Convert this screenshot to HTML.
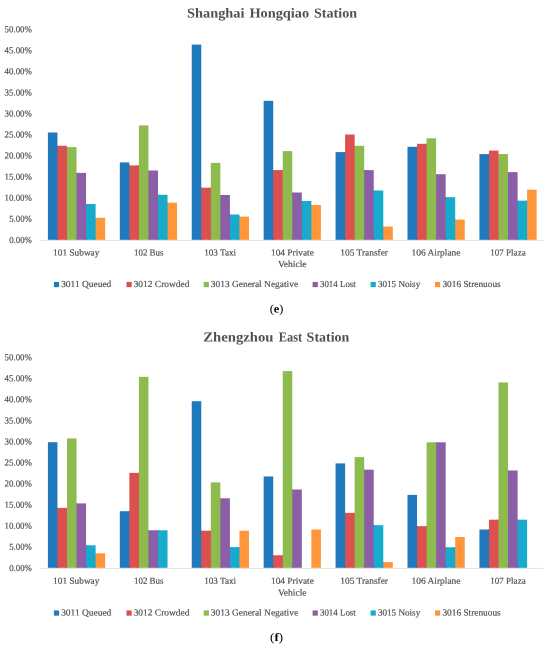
<!DOCTYPE html>
<html><head><meta charset="utf-8"><title>Station charts</title>
<style>
html,body{margin:0;padding:0;background:#fff;}
svg{display:block;font-family:"Liberation Serif",serif;}
text.s{stroke:#505050;stroke-width:0.18px;}
</style></head><body>
<svg width="550" height="648" viewBox="0 0 550 648">
<rect width="550" height="648" fill="#fff"/>
<text transform="matrix(1,0.001,0,1,0,0)" font-size="13.7" font-weight="bold" fill="#505050"><tspan x="187.00" y="17.38" textLength="57.50" lengthAdjust="spacingAndGlyphs">Shanghai</tspan> <tspan x="249.40" y="17.32" textLength="59.80" lengthAdjust="spacingAndGlyphs">Hongqiao</tspan> <tspan x="314.00" y="17.26" textLength="43.00" lengthAdjust="spacingAndGlyphs">Station</tspan></text>
<text class="s" transform="matrix(1,0.001,0,1,0,0)" x="9.20" y="242.88" font-size="9.2" fill="#505050" textLength="22.70" lengthAdjust="spacingAndGlyphs">0.00%</text>
<text class="s" transform="matrix(1,0.001,0,1,0,0)" x="9.20" y="221.81" font-size="9.2" fill="#505050" textLength="22.70" lengthAdjust="spacingAndGlyphs">5.00%</text>
<text class="s" transform="matrix(1,0.001,0,1,0,0)" x="4.60" y="200.74" font-size="9.2" fill="#505050" textLength="27.30" lengthAdjust="spacingAndGlyphs">10.00%</text>
<text class="s" transform="matrix(1,0.001,0,1,0,0)" x="4.60" y="179.67" font-size="9.2" fill="#505050" textLength="27.30" lengthAdjust="spacingAndGlyphs">15.00%</text>
<text class="s" transform="matrix(1,0.001,0,1,0,0)" x="4.60" y="158.60" font-size="9.2" fill="#505050" textLength="27.30" lengthAdjust="spacingAndGlyphs">20.00%</text>
<text class="s" transform="matrix(1,0.001,0,1,0,0)" x="4.60" y="137.53" font-size="9.2" fill="#505050" textLength="27.30" lengthAdjust="spacingAndGlyphs">25.00%</text>
<text class="s" transform="matrix(1,0.001,0,1,0,0)" x="4.60" y="116.46" font-size="9.2" fill="#505050" textLength="27.30" lengthAdjust="spacingAndGlyphs">30.00%</text>
<text class="s" transform="matrix(1,0.001,0,1,0,0)" x="4.60" y="95.39" font-size="9.2" fill="#505050" textLength="27.30" lengthAdjust="spacingAndGlyphs">35.00%</text>
<text class="s" transform="matrix(1,0.001,0,1,0,0)" x="4.60" y="74.32" font-size="9.2" fill="#505050" textLength="27.30" lengthAdjust="spacingAndGlyphs">40.00%</text>
<text class="s" transform="matrix(1,0.001,0,1,0,0)" x="4.60" y="53.25" font-size="9.2" fill="#505050" textLength="27.30" lengthAdjust="spacingAndGlyphs">45.00%</text>
<text class="s" transform="matrix(1,0.001,0,1,0,0)" x="4.60" y="32.18" font-size="9.2" fill="#505050" textLength="27.30" lengthAdjust="spacingAndGlyphs">50.00%</text>
<rect x="40.3" y="239.90" width="503.6" height="0.8" fill="#D9D9D9"/>
<rect x="47.90" y="132.50" width="9.54" height="107.30" fill="#2079BD"/>
<rect x="55.94" y="145.80" width="2.5" height="94.00" fill="#2079BD"/>
<rect x="57.44" y="145.80" width="9.54" height="94.00" fill="#DC5050"/>
<rect x="65.48" y="147.10" width="2.5" height="92.70" fill="#DC5050"/>
<rect x="66.98" y="147.10" width="9.54" height="92.70" fill="#8DBB4E"/>
<rect x="75.02" y="172.90" width="2.5" height="66.90" fill="#8DBB4E"/>
<rect x="76.52" y="172.90" width="9.54" height="66.90" fill="#8B5EA8"/>
<rect x="84.56" y="204.00" width="2.5" height="35.80" fill="#8B5EA8"/>
<rect x="86.06" y="204.00" width="9.54" height="35.80" fill="#17AACC"/>
<rect x="94.10" y="217.80" width="2.5" height="22.00" fill="#17AACC"/>
<rect x="95.60" y="217.80" width="9.54" height="22.00" fill="#FF9639"/>
<rect x="119.82" y="162.40" width="9.54" height="77.40" fill="#2079BD"/>
<rect x="127.86" y="165.40" width="2.5" height="74.40" fill="#2079BD"/>
<rect x="129.36" y="165.40" width="9.54" height="74.40" fill="#DC5050"/>
<rect x="137.40" y="165.40" width="2.5" height="74.40" fill="#DC5050"/>
<rect x="138.90" y="125.40" width="9.54" height="114.40" fill="#8DBB4E"/>
<rect x="146.94" y="170.50" width="2.5" height="69.30" fill="#8DBB4E"/>
<rect x="148.44" y="170.50" width="9.54" height="69.30" fill="#8B5EA8"/>
<rect x="156.48" y="194.80" width="2.5" height="45.00" fill="#8B5EA8"/>
<rect x="157.98" y="194.80" width="9.54" height="45.00" fill="#17AACC"/>
<rect x="166.02" y="202.70" width="2.5" height="37.10" fill="#17AACC"/>
<rect x="167.52" y="202.70" width="9.54" height="37.10" fill="#FF9639"/>
<rect x="191.74" y="44.60" width="9.54" height="195.20" fill="#2079BD"/>
<rect x="199.78" y="187.70" width="2.5" height="52.10" fill="#2079BD"/>
<rect x="201.28" y="187.70" width="9.54" height="52.10" fill="#DC5050"/>
<rect x="209.32" y="187.70" width="2.5" height="52.10" fill="#DC5050"/>
<rect x="210.82" y="162.90" width="9.54" height="76.90" fill="#8DBB4E"/>
<rect x="218.86" y="195.00" width="2.5" height="44.80" fill="#8DBB4E"/>
<rect x="220.36" y="195.00" width="9.54" height="44.80" fill="#8B5EA8"/>
<rect x="228.40" y="214.50" width="2.5" height="25.30" fill="#8B5EA8"/>
<rect x="229.90" y="214.50" width="9.54" height="25.30" fill="#17AACC"/>
<rect x="237.94" y="216.60" width="2.5" height="23.20" fill="#17AACC"/>
<rect x="239.44" y="216.60" width="9.54" height="23.20" fill="#FF9639"/>
<rect x="263.66" y="100.80" width="9.54" height="139.00" fill="#2079BD"/>
<rect x="271.70" y="170.10" width="2.5" height="69.70" fill="#2079BD"/>
<rect x="273.20" y="170.10" width="9.54" height="69.70" fill="#DC5050"/>
<rect x="281.24" y="170.10" width="2.5" height="69.70" fill="#DC5050"/>
<rect x="282.74" y="151.10" width="9.54" height="88.70" fill="#8DBB4E"/>
<rect x="290.78" y="192.50" width="2.5" height="47.30" fill="#8DBB4E"/>
<rect x="292.28" y="192.50" width="9.54" height="47.30" fill="#8B5EA8"/>
<rect x="300.32" y="201.00" width="2.5" height="38.80" fill="#8B5EA8"/>
<rect x="301.82" y="201.00" width="9.54" height="38.80" fill="#17AACC"/>
<rect x="309.86" y="205.00" width="2.5" height="34.80" fill="#17AACC"/>
<rect x="311.36" y="205.00" width="9.54" height="34.80" fill="#FF9639"/>
<rect x="335.58" y="152.10" width="9.54" height="87.70" fill="#2079BD"/>
<rect x="343.62" y="152.10" width="2.5" height="87.70" fill="#2079BD"/>
<rect x="345.12" y="134.50" width="9.54" height="105.30" fill="#DC5050"/>
<rect x="353.16" y="145.80" width="2.5" height="94.00" fill="#DC5050"/>
<rect x="354.66" y="145.80" width="9.54" height="94.00" fill="#8DBB4E"/>
<rect x="362.70" y="170.10" width="2.5" height="69.70" fill="#8DBB4E"/>
<rect x="364.20" y="170.10" width="9.54" height="69.70" fill="#8B5EA8"/>
<rect x="372.24" y="190.50" width="2.5" height="49.30" fill="#8B5EA8"/>
<rect x="373.74" y="190.50" width="9.54" height="49.30" fill="#17AACC"/>
<rect x="381.78" y="226.60" width="2.5" height="13.20" fill="#17AACC"/>
<rect x="383.28" y="226.60" width="9.54" height="13.20" fill="#FF9639"/>
<rect x="407.50" y="146.80" width="9.54" height="93.00" fill="#2079BD"/>
<rect x="415.54" y="146.80" width="2.5" height="93.00" fill="#2079BD"/>
<rect x="417.04" y="143.80" width="9.54" height="96.00" fill="#DC5050"/>
<rect x="425.08" y="143.80" width="2.5" height="96.00" fill="#DC5050"/>
<rect x="426.58" y="138.30" width="9.54" height="101.50" fill="#8DBB4E"/>
<rect x="434.62" y="174.20" width="2.5" height="65.60" fill="#8DBB4E"/>
<rect x="436.12" y="174.20" width="9.54" height="65.60" fill="#8B5EA8"/>
<rect x="444.16" y="197.20" width="2.5" height="42.60" fill="#8B5EA8"/>
<rect x="445.66" y="197.20" width="9.54" height="42.60" fill="#17AACC"/>
<rect x="453.70" y="219.60" width="2.5" height="20.20" fill="#17AACC"/>
<rect x="455.20" y="219.60" width="9.54" height="20.20" fill="#FF9639"/>
<rect x="479.42" y="154.10" width="9.54" height="85.70" fill="#2079BD"/>
<rect x="487.46" y="154.10" width="2.5" height="85.70" fill="#2079BD"/>
<rect x="488.96" y="150.60" width="9.54" height="89.20" fill="#DC5050"/>
<rect x="497.00" y="154.10" width="2.5" height="85.70" fill="#DC5050"/>
<rect x="498.50" y="154.10" width="9.54" height="85.70" fill="#8DBB4E"/>
<rect x="506.54" y="172.10" width="2.5" height="67.70" fill="#8DBB4E"/>
<rect x="508.04" y="172.10" width="9.54" height="67.70" fill="#8B5EA8"/>
<rect x="516.08" y="200.70" width="2.5" height="39.10" fill="#8B5EA8"/>
<rect x="517.58" y="200.70" width="9.54" height="39.10" fill="#17AACC"/>
<rect x="525.62" y="200.70" width="2.5" height="39.10" fill="#17AACC"/>
<rect x="527.12" y="189.70" width="9.54" height="50.10" fill="#FF9639"/>
<text class="s" transform="matrix(1,0.001,0,1,0,0)" x="53.10" y="255.47" font-size="9.2" fill="#505050" textLength="46.30" lengthAdjust="spacingAndGlyphs">101 Subway</text>
<text class="s" transform="matrix(1,0.001,0,1,0,0)" x="134.00" y="255.40" font-size="9.2" fill="#505050" textLength="29.50" lengthAdjust="spacingAndGlyphs">102 Bus</text>
<text class="s" transform="matrix(1,0.001,0,1,0,0)" x="204.20" y="255.33" font-size="9.2" fill="#505050" textLength="31.90" lengthAdjust="spacingAndGlyphs">103 Taxi</text>
<text class="s" transform="matrix(1,0.001,0,1,0,0)" x="271.00" y="255.26" font-size="9.2" fill="#505050" textLength="42.80" lengthAdjust="spacingAndGlyphs">104 Private</text>
<text class="s" transform="matrix(1,0.001,0,1,0,0)" x="340.30" y="255.19" font-size="9.2" fill="#505050" textLength="47.70" lengthAdjust="spacingAndGlyphs">105 Transfer</text>
<text class="s" transform="matrix(1,0.001,0,1,0,0)" x="411.50" y="255.11" font-size="9.2" fill="#505050" textLength="49.00" lengthAdjust="spacingAndGlyphs">106 Airplane</text>
<text class="s" transform="matrix(1,0.001,0,1,0,0)" x="490.20" y="255.04" font-size="9.2" fill="#505050" textLength="35.50" lengthAdjust="spacingAndGlyphs">107 Plaza</text>
<text class="s" transform="matrix(1,0.001,0,1,0,0)" x="278.00" y="266.71" font-size="9.2" fill="#505050" textLength="28.50" lengthAdjust="spacingAndGlyphs">Vehicle</text>
<rect x="53.90" y="281.95" width="5.2" height="5.2" fill="#2079BD"/>
<text class="s" transform="matrix(1,0.001,0,1,0,0)" x="61.15" y="286.91" font-size="9.2" fill="#505050" textLength="50.15" lengthAdjust="spacingAndGlyphs">3011 Queued</text>
<rect x="126.50" y="281.95" width="5.2" height="5.2" fill="#DC5050"/>
<text class="s" transform="matrix(1,0.001,0,1,0,0)" x="133.65" y="286.84" font-size="9.2" fill="#505050" textLength="55.75" lengthAdjust="spacingAndGlyphs">3012 Crowded</text>
<rect x="203.70" y="281.95" width="5.2" height="5.2" fill="#8DBB4E"/>
<text class="s" transform="matrix(1,0.001,0,1,0,0)" x="210.75" y="286.75" font-size="9.2" fill="#505050" textLength="87.35" lengthAdjust="spacingAndGlyphs">3013 General Negative</text>
<rect x="312.60" y="281.95" width="5.2" height="5.2" fill="#8B5EA8"/>
<text class="s" transform="matrix(1,0.001,0,1,0,0)" x="319.95" y="286.66" font-size="9.2" fill="#505050" textLength="35.85" lengthAdjust="spacingAndGlyphs">3014 Lost</text>
<rect x="370.60" y="281.95" width="5.2" height="5.2" fill="#17AACC"/>
<text class="s" transform="matrix(1,0.001,0,1,0,0)" x="377.95" y="286.60" font-size="9.2" fill="#505050" textLength="42.25" lengthAdjust="spacingAndGlyphs">3015 Noisy</text>
<rect x="435.00" y="281.95" width="5.2" height="5.2" fill="#FF9639"/>
<text class="s" transform="matrix(1,0.001,0,1,0,0)" x="442.45" y="286.53" font-size="9.2" fill="#505050" textLength="58.25" lengthAdjust="spacingAndGlyphs">3016 Strenuous</text>
<text transform="matrix(1,0.001,0,1,0,0)" x="276.6" y="312.12" font-size="11.5" fill="#000" text-anchor="middle" textLength="13.9" lengthAdjust="spacingAndGlyphs">(<tspan font-weight="bold">e</tspan>)</text>
<text transform="matrix(1,0.001,0,1,0,0)" font-size="13.7" font-weight="bold" fill="#505050"><tspan x="203.30" y="341.36" textLength="70.10" lengthAdjust="spacingAndGlyphs">Zhengzhou</tspan> <tspan x="278.80" y="341.31" textLength="23.30" lengthAdjust="spacingAndGlyphs">East</tspan> <tspan x="306.60" y="341.27" textLength="42.80" lengthAdjust="spacingAndGlyphs">Station</tspan></text>
<text class="s" transform="matrix(1,0.001,0,1,0,0)" x="9.20" y="570.88" font-size="9.2" fill="#505050" textLength="22.70" lengthAdjust="spacingAndGlyphs">0.00%</text>
<text class="s" transform="matrix(1,0.001,0,1,0,0)" x="9.20" y="549.81" font-size="9.2" fill="#505050" textLength="22.70" lengthAdjust="spacingAndGlyphs">5.00%</text>
<text class="s" transform="matrix(1,0.001,0,1,0,0)" x="4.60" y="528.74" font-size="9.2" fill="#505050" textLength="27.30" lengthAdjust="spacingAndGlyphs">10.00%</text>
<text class="s" transform="matrix(1,0.001,0,1,0,0)" x="4.60" y="507.67" font-size="9.2" fill="#505050" textLength="27.30" lengthAdjust="spacingAndGlyphs">15.00%</text>
<text class="s" transform="matrix(1,0.001,0,1,0,0)" x="4.60" y="486.60" font-size="9.2" fill="#505050" textLength="27.30" lengthAdjust="spacingAndGlyphs">20.00%</text>
<text class="s" transform="matrix(1,0.001,0,1,0,0)" x="4.60" y="465.53" font-size="9.2" fill="#505050" textLength="27.30" lengthAdjust="spacingAndGlyphs">25.00%</text>
<text class="s" transform="matrix(1,0.001,0,1,0,0)" x="4.60" y="444.46" font-size="9.2" fill="#505050" textLength="27.30" lengthAdjust="spacingAndGlyphs">30.00%</text>
<text class="s" transform="matrix(1,0.001,0,1,0,0)" x="4.60" y="423.39" font-size="9.2" fill="#505050" textLength="27.30" lengthAdjust="spacingAndGlyphs">35.00%</text>
<text class="s" transform="matrix(1,0.001,0,1,0,0)" x="4.60" y="402.32" font-size="9.2" fill="#505050" textLength="27.30" lengthAdjust="spacingAndGlyphs">40.00%</text>
<text class="s" transform="matrix(1,0.001,0,1,0,0)" x="4.60" y="381.25" font-size="9.2" fill="#505050" textLength="27.30" lengthAdjust="spacingAndGlyphs">45.00%</text>
<text class="s" transform="matrix(1,0.001,0,1,0,0)" x="4.60" y="360.18" font-size="9.2" fill="#505050" textLength="27.30" lengthAdjust="spacingAndGlyphs">50.00%</text>
<rect x="40.3" y="567.90" width="503.6" height="0.8" fill="#D9D9D9"/>
<rect x="47.90" y="442.20" width="9.54" height="125.60" fill="#2079BD"/>
<rect x="55.94" y="507.90" width="2.5" height="59.90" fill="#2079BD"/>
<rect x="57.44" y="507.90" width="9.54" height="59.90" fill="#DC5050"/>
<rect x="65.48" y="507.90" width="2.5" height="59.90" fill="#DC5050"/>
<rect x="66.98" y="438.40" width="9.54" height="129.40" fill="#8DBB4E"/>
<rect x="75.02" y="503.40" width="2.5" height="64.40" fill="#8DBB4E"/>
<rect x="76.52" y="503.40" width="9.54" height="64.40" fill="#8B5EA8"/>
<rect x="84.56" y="545.30" width="2.5" height="22.50" fill="#8B5EA8"/>
<rect x="86.06" y="545.30" width="9.54" height="22.50" fill="#17AACC"/>
<rect x="94.10" y="553.30" width="2.5" height="14.50" fill="#17AACC"/>
<rect x="95.60" y="553.30" width="9.54" height="14.50" fill="#FF9639"/>
<rect x="119.82" y="511.20" width="9.54" height="56.60" fill="#2079BD"/>
<rect x="127.86" y="511.20" width="2.5" height="56.60" fill="#2079BD"/>
<rect x="129.36" y="472.90" width="9.54" height="94.90" fill="#DC5050"/>
<rect x="137.40" y="472.90" width="2.5" height="94.90" fill="#DC5050"/>
<rect x="138.90" y="376.85" width="9.54" height="190.95" fill="#8DBB4E"/>
<rect x="146.94" y="530.30" width="2.5" height="37.50" fill="#8DBB4E"/>
<rect x="148.44" y="530.30" width="9.54" height="37.50" fill="#8B5EA8"/>
<rect x="156.48" y="530.30" width="2.5" height="37.50" fill="#8B5EA8"/>
<rect x="157.98" y="530.30" width="9.54" height="37.50" fill="#17AACC"/>
<rect x="191.74" y="401.20" width="9.54" height="166.60" fill="#2079BD"/>
<rect x="199.78" y="530.75" width="2.5" height="37.05" fill="#2079BD"/>
<rect x="201.28" y="530.75" width="9.54" height="37.05" fill="#DC5050"/>
<rect x="209.32" y="530.75" width="2.5" height="37.05" fill="#DC5050"/>
<rect x="210.82" y="482.40" width="9.54" height="85.40" fill="#8DBB4E"/>
<rect x="218.86" y="498.30" width="2.5" height="69.50" fill="#8DBB4E"/>
<rect x="220.36" y="498.30" width="9.54" height="69.50" fill="#8B5EA8"/>
<rect x="228.40" y="547.10" width="2.5" height="20.70" fill="#8B5EA8"/>
<rect x="229.90" y="547.10" width="9.54" height="20.70" fill="#17AACC"/>
<rect x="237.94" y="547.10" width="2.5" height="20.70" fill="#17AACC"/>
<rect x="239.44" y="530.75" width="9.54" height="37.05" fill="#FF9639"/>
<rect x="263.66" y="476.45" width="9.54" height="91.35" fill="#2079BD"/>
<rect x="271.70" y="555.30" width="2.5" height="12.50" fill="#2079BD"/>
<rect x="273.20" y="555.30" width="9.54" height="12.50" fill="#DC5050"/>
<rect x="281.24" y="555.30" width="2.5" height="12.50" fill="#DC5050"/>
<rect x="282.74" y="371.10" width="9.54" height="196.70" fill="#8DBB4E"/>
<rect x="290.78" y="489.50" width="2.5" height="78.30" fill="#8DBB4E"/>
<rect x="292.28" y="489.50" width="9.54" height="78.30" fill="#8B5EA8"/>
<rect x="311.36" y="529.50" width="9.54" height="38.30" fill="#FF9639"/>
<rect x="335.58" y="463.40" width="9.54" height="104.40" fill="#2079BD"/>
<rect x="343.62" y="512.90" width="2.5" height="54.90" fill="#2079BD"/>
<rect x="345.12" y="512.90" width="9.54" height="54.90" fill="#DC5050"/>
<rect x="353.16" y="512.90" width="2.5" height="54.90" fill="#DC5050"/>
<rect x="354.66" y="457.10" width="9.54" height="110.70" fill="#8DBB4E"/>
<rect x="362.70" y="469.70" width="2.5" height="98.10" fill="#8DBB4E"/>
<rect x="364.20" y="469.70" width="9.54" height="98.10" fill="#8B5EA8"/>
<rect x="372.24" y="525.20" width="2.5" height="42.60" fill="#8B5EA8"/>
<rect x="373.74" y="525.20" width="9.54" height="42.60" fill="#17AACC"/>
<rect x="381.78" y="562.10" width="2.5" height="5.70" fill="#17AACC"/>
<rect x="383.28" y="562.10" width="9.54" height="5.70" fill="#FF9639"/>
<rect x="407.50" y="494.90" width="9.54" height="72.90" fill="#2079BD"/>
<rect x="415.54" y="526.20" width="2.5" height="41.60" fill="#2079BD"/>
<rect x="417.04" y="526.20" width="9.54" height="41.60" fill="#DC5050"/>
<rect x="425.08" y="526.20" width="2.5" height="41.60" fill="#DC5050"/>
<rect x="426.58" y="442.30" width="9.54" height="125.50" fill="#8DBB4E"/>
<rect x="434.62" y="442.30" width="2.5" height="125.50" fill="#8DBB4E"/>
<rect x="436.12" y="442.30" width="9.54" height="125.50" fill="#8B5EA8"/>
<rect x="444.16" y="547.30" width="2.5" height="20.50" fill="#8B5EA8"/>
<rect x="445.66" y="547.30" width="9.54" height="20.50" fill="#17AACC"/>
<rect x="453.70" y="547.30" width="2.5" height="20.50" fill="#17AACC"/>
<rect x="455.20" y="537.00" width="9.54" height="30.80" fill="#FF9639"/>
<rect x="479.42" y="529.50" width="9.54" height="38.30" fill="#2079BD"/>
<rect x="487.46" y="529.50" width="2.5" height="38.30" fill="#2079BD"/>
<rect x="488.96" y="519.70" width="9.54" height="48.10" fill="#DC5050"/>
<rect x="497.00" y="519.70" width="2.5" height="48.10" fill="#DC5050"/>
<rect x="498.50" y="382.40" width="9.54" height="185.40" fill="#8DBB4E"/>
<rect x="506.54" y="470.50" width="2.5" height="97.30" fill="#8DBB4E"/>
<rect x="508.04" y="470.50" width="9.54" height="97.30" fill="#8B5EA8"/>
<rect x="516.08" y="519.70" width="2.5" height="48.10" fill="#8B5EA8"/>
<rect x="517.58" y="519.70" width="9.54" height="48.10" fill="#17AACC"/>
<text class="s" transform="matrix(1,0.001,0,1,0,0)" x="53.10" y="583.72" font-size="9.2" fill="#505050" textLength="46.30" lengthAdjust="spacingAndGlyphs">101 Subway</text>
<text class="s" transform="matrix(1,0.001,0,1,0,0)" x="134.00" y="583.65" font-size="9.2" fill="#505050" textLength="29.50" lengthAdjust="spacingAndGlyphs">102 Bus</text>
<text class="s" transform="matrix(1,0.001,0,1,0,0)" x="204.20" y="583.58" font-size="9.2" fill="#505050" textLength="31.90" lengthAdjust="spacingAndGlyphs">103 Taxi</text>
<text class="s" transform="matrix(1,0.001,0,1,0,0)" x="271.00" y="583.51" font-size="9.2" fill="#505050" textLength="42.80" lengthAdjust="spacingAndGlyphs">104 Private</text>
<text class="s" transform="matrix(1,0.001,0,1,0,0)" x="340.30" y="583.44" font-size="9.2" fill="#505050" textLength="47.70" lengthAdjust="spacingAndGlyphs">105 Transfer</text>
<text class="s" transform="matrix(1,0.001,0,1,0,0)" x="411.50" y="583.36" font-size="9.2" fill="#505050" textLength="49.00" lengthAdjust="spacingAndGlyphs">106 Airplane</text>
<text class="s" transform="matrix(1,0.001,0,1,0,0)" x="490.20" y="583.29" font-size="9.2" fill="#505050" textLength="35.50" lengthAdjust="spacingAndGlyphs">107 Plaza</text>
<text class="s" transform="matrix(1,0.001,0,1,0,0)" x="278.00" y="595.21" font-size="9.2" fill="#505050" textLength="28.50" lengthAdjust="spacingAndGlyphs">Vehicle</text>
<rect x="53.90" y="610.45" width="5.2" height="5.2" fill="#2079BD"/>
<text class="s" transform="matrix(1,0.001,0,1,0,0)" x="61.15" y="615.41" font-size="9.2" fill="#505050" textLength="50.15" lengthAdjust="spacingAndGlyphs">3011 Queued</text>
<rect x="126.50" y="610.45" width="5.2" height="5.2" fill="#DC5050"/>
<text class="s" transform="matrix(1,0.001,0,1,0,0)" x="133.65" y="615.34" font-size="9.2" fill="#505050" textLength="55.75" lengthAdjust="spacingAndGlyphs">3012 Crowded</text>
<rect x="203.70" y="610.45" width="5.2" height="5.2" fill="#8DBB4E"/>
<text class="s" transform="matrix(1,0.001,0,1,0,0)" x="210.75" y="615.25" font-size="9.2" fill="#505050" textLength="87.35" lengthAdjust="spacingAndGlyphs">3013 General Negative</text>
<rect x="312.60" y="610.45" width="5.2" height="5.2" fill="#8B5EA8"/>
<text class="s" transform="matrix(1,0.001,0,1,0,0)" x="319.95" y="615.16" font-size="9.2" fill="#505050" textLength="35.85" lengthAdjust="spacingAndGlyphs">3014 Lost</text>
<rect x="370.60" y="610.45" width="5.2" height="5.2" fill="#17AACC"/>
<text class="s" transform="matrix(1,0.001,0,1,0,0)" x="377.95" y="615.10" font-size="9.2" fill="#505050" textLength="42.25" lengthAdjust="spacingAndGlyphs">3015 Noisy</text>
<rect x="435.00" y="610.45" width="5.2" height="5.2" fill="#FF9639"/>
<text class="s" transform="matrix(1,0.001,0,1,0,0)" x="442.45" y="615.03" font-size="9.2" fill="#505050" textLength="58.25" lengthAdjust="spacingAndGlyphs">3016 Strenuous</text>
<text transform="matrix(1,0.001,0,1,0,0)" x="276.6" y="640.72" font-size="11.5" fill="#000" text-anchor="middle" textLength="13.1" lengthAdjust="spacingAndGlyphs">(<tspan font-weight="bold">f</tspan>)</text>
</svg>
</body></html>
